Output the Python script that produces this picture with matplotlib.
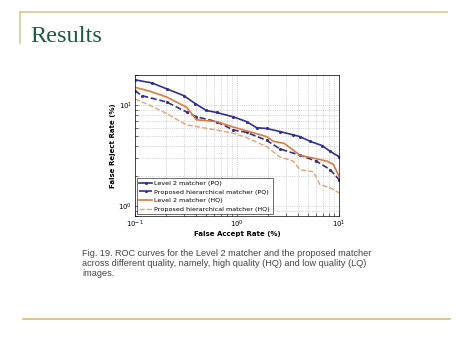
import matplotlib.pyplot as plt
from matplotlib.lines import Line2D

# curve values (FAR %, FRR %)
far_pq = [0.1, 0.146, 0.204, 0.30, 0.39, 0.50, 0.63, 0.92, 1.24, 1.56, 1.95, 2.64, 3.56, 4.15, 5.2, 6.8, 8.2, 10.0]
frr_l2_pq = [17.9, 16.7, 14.6, 12.5, 10.4, 8.9, 8.5, 7.7, 6.9, 6.0, 5.9, 5.5, 5.1, 4.9, 4.4, 4.0, 3.5, 3.1]

far_hpq = [0.1, 0.116, 0.204, 0.32, 0.40, 0.63, 0.92, 1.24, 1.95, 2.64, 4.15, 6.0, 8.2, 10.0]
frr_h_pq = [14.0, 12.5, 10.8, 8.6, 7.7, 6.9, 5.7, 5.4, 4.5, 3.7, 3.2, 2.8, 2.3, 1.84]

far_hq = [0.1, 0.14, 0.204, 0.32, 0.40, 0.63, 0.92, 1.24, 1.95, 2.27, 2.9, 4.15, 5.6, 7.6, 8.8, 10.0]
frr_l2_hq = [15.1, 13.8, 12.1, 9.6, 7.2, 6.9, 6.1, 5.6, 4.9, 4.4, 4.2, 3.2, 3.0, 2.8, 2.6, 1.98]

far_hhq = [0.1, 0.14, 0.204, 0.32, 0.63, 0.92, 1.24, 1.95, 2.64, 3.56, 4.15, 5.6, 6.5, 8.2, 10.0]
frr_h_hq = [11.6, 10.0, 8.3, 6.4, 5.7, 5.3, 4.8, 3.9, 3.07, 2.8, 2.3, 2.2, 1.64, 1.52, 1.36]

labels = ["Level 2 matcher (PQ)", "Proposed hierarchical matcher (PQ)",
          "Level 2 matcher (HQ)", "Proposed hierarchical matcher (HQ)"]

caption = ["Fig. 19. ROC curves for the Level 2 matcher and the proposed matcher",
           "across different quality, namely, high quality (HQ) and low quality (LQ)",
           "images."]

fig = plt.figure(figsize=(4.74, 3.55), dpi=100)

# slide decorations
fig.add_artist(Line2D([20/474, 447/474], [1-12/355, 1-12/355], color="#d8c98e", lw=1.2))
fig.add_artist(Line2D([20/474, 20/474], [1-12/355, 1-43/355], color="#d8c98e", lw=1.2))
fig.add_artist(Line2D([23/474, 450/474], [1-319/355, 1-319/355], color="#d6bd6a", lw=1.2))
fig.text(30/474, 1-36/355, "Results", fontsize=17.5, family="Liberation Serif",
         color="#1b5e3b", va="center", ha="left")

ax = fig.add_axes([135/474, 1-216/355, 204/474, 141/355])
ax.plot(far_pq, frr_l2_pq, "-", color="#2e3192", lw=1.2, marker=".", ms=2.5, label=labels[0])
ax.plot(far_hpq, frr_h_pq, "--", color="#2e3192", lw=1.2, marker=".", ms=2.5, label=labels[1])
ax.plot(far_hq, frr_l2_hq, "-", color="#e07a3c", lw=1.2, label=labels[2])
ax.plot(far_hhq, frr_h_hq, "--", color="#eba070", lw=1.0, label=labels[3])

ax.set_xscale("log")
ax.set_yscale("log")
ax.set_xlim(0.1, 10)
ax.set_ylim(0.8, 20)
ax.grid(True, which="both", ls=":", color="#b0b0b0", lw=0.5)
ax.tick_params(which="both", labelsize=5, length=2, width=0.4, direction="in", pad=2)
for s in ax.spines.values():
    s.set_linewidth(0.5)
ax.set_xlabel("False Accept Rate (%)", fontsize=5, labelpad=1, fontweight="bold")
ax.set_ylabel("False Reject Rate (%)", fontsize=5, labelpad=2, fontweight="bold")
leg = ax.legend(loc="lower left", prop={"size": 4.6}, frameon=True, fancybox=False,
                borderpad=0.4, labelspacing=0.5, handlelength=2.0, handletextpad=0.4,
                borderaxespad=0.25)
leg.get_frame().set_edgecolor("black")
leg.get_frame().set_linewidth(0.5)

for i, line in enumerate(caption):
    fig.text(82/474, 1-(253+10.5*i)/355, line, fontsize=6.6, family="Liberation Sans",
             color="#444444", va="center", ha="left")

fig.savefig("out.png", dpi=100)
